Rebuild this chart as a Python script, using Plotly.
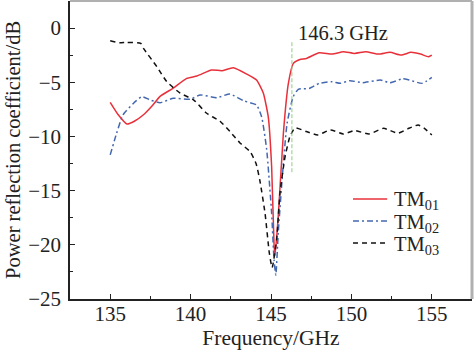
import plotly.graph_objects as go

# ---- data ----
tm01_x = [135.0, 135.5, 136.04, 136.5, 137.07, 137.6, 138.1, 138.9, 139.76, 140.4, 141.3, 141.94, 142.66,
          143.49, 144.1, 144.52, 144.83, 145.04, 145.19, 145.25, 145.45, 145.77, 146.08, 146.39, 146.8,
          147.2, 148.0, 148.8, 149.5, 150.2, 150.9, 151.7, 152.4, 153.1, 153.7, 154.3, 154.8, 155.0]
tm01_y = [-6.85, -8.0, -8.85, -8.6, -8.0, -7.2, -6.3, -5.56, -4.64, -4.42, -3.87, -3.93, -3.66,
          -4.24, -4.79, -6.0, -8.2, -12.8, -20.0, -21.0, -17.4, -9.7, -5.1, -3.26, -2.9,
          -2.8, -2.27, -2.4, -2.18, -2.34, -2.18, -2.4, -2.24, -2.49, -2.24, -2.4, -2.64, -2.49]

tm02_x = [135.0, 135.4, 135.8, 136.45, 136.97, 137.5, 138.1, 138.93, 139.97, 140.6, 141.63, 142.45,
          143.28, 144.1, 144.42, 144.73, 145.04, 145.19, 145.3, 145.45, 145.72, 146.0, 146.38, 146.7,
          147.4, 148.0, 148.8, 149.3, 149.9, 150.7, 151.8, 152.4, 153.2, 153.6, 154.4, 155.0]
tm02_y = [-11.7, -9.7, -8.0, -6.94, -6.33, -6.64, -6.88, -6.48, -6.57, -6.17, -6.42, -6.08,
          -6.7, -7.1, -8.2, -11.2, -17.1, -21.4, -22.8, -18.9, -13.4, -8.8, -6.33, -5.65,
          -5.56, -5.1, -4.95, -5.1, -4.85, -5.04, -4.79, -5.04, -4.67, -4.79, -5.1, -4.55]

tm03_x = [135.0, 135.6, 136.0, 136.9, 137.07, 137.9, 138.52, 139.35, 140.2, 141.0, 141.83, 142.45,
          143.07, 143.7, 144.07, 144.3, 144.63, 144.9, 145.07, 145.35, 145.56, 145.87, 146.18, 146.5,
          147.2, 147.9, 148.7, 149.5, 150.2, 151.1, 152.0, 152.9, 153.5, 154.15, 154.5, 155.0]
tm03_y = [-1.17, -1.35, -1.32, -1.41, -1.87, -3.56, -4.95, -6.0, -6.64, -7.86, -8.6, -9.55,
          -10.6, -11.4, -12.5, -14.0, -17.1, -20.8, -22.1, -19.5, -15.2, -11.9, -10.0, -9.2,
          -9.55, -9.86, -9.4, -9.77, -9.46, -9.77, -9.25, -9.7, -9.3, -8.94, -9.2, -9.86]

series_names = ["TM<sub>01</sub>", "TM<sub>02</sub>", "TM<sub>03</sub>"]
series_colors = ["#e8303a", "#4468b0", "#111111"]
series_dash = ["solid", "6px,3px,2px,3px", "5px,4px"]
x_ticks = [135, 140, 145, 150, 155]
y_ticks = [0, -5, -10, -15, -20, -25]
marker_freq = 146.3
marker_label = "146.3 GHz"

FONT = "'Liberation Serif', 'Times New Roman', serif"

fig = go.Figure()
for xs, ys, nm, col, dsh in zip([tm01_x, tm02_x, tm03_x], [tm01_y, tm02_y, tm03_y],
                                series_names, series_colors, series_dash):
    fig.add_trace(go.Scatter(x=xs, y=ys, name=nm, mode="lines", showlegend=False,
                             line=dict(color=col, width=1.5, dash=dsh, shape="spline", smoothing=0.5)))

# manual legend (compact spacing like the reference)
leg_y = [0.3356, 0.2617, 0.1879]
for nm, col, dsh, ly in zip(series_names, series_colors, series_dash, leg_y):
    fig.add_shape(type="line", xref="paper", yref="paper", x0=0.704, x1=0.789, y0=ly, y1=ly,
                  line=dict(color=col, width=1.5, dash=dsh))
    fig.add_annotation(xref="paper", yref="paper", x=0.801, y=ly, yshift=-2, text=nm, showarrow=False,
                       xanchor="left", yanchor="middle", font=dict(family=FONT, size=20.5, color="#222"))

# green marker line
fig.add_shape(type="line", x0=marker_freq, x1=marker_freq, y0=-13.3, y1=-1.3, xref="x", yref="y",
              line=dict(color="#8ccf7e", width=1, dash="4px,2px"))
fig.add_annotation(x=146.55, y=-0.45, xref="x", yref="y", text=marker_label, showarrow=False,
                   xanchor="left", yanchor="middle", font=dict(family=FONT, size=20.5, color="#222"))

# y-axis title
fig.add_annotation(xref="paper", yref="paper", x=-0.142, y=0.5, text="Power reflection coefficient/dB",
                   textangle=-90, showarrow=False, xanchor="center", yanchor="middle",
                   font=dict(family=FONT, size=20.5, color="#222"))

# gray frame on top and right
fig.add_shape(type="line", x0=0, x1=1, y0=1, y1=1, xref="paper", yref="paper",
              line=dict(color="#b0b0b0", width=2))
fig.add_shape(type="line", x0=1, x1=1, y0=0, y1=1, xref="paper", yref="paper",
              line=dict(color="#b0b0b0", width=3))

fig.update_layout(
    width=474, height=350,
    margin=dict(l=70, r=2, t=1, b=51),
    paper_bgcolor="white", plot_bgcolor="white",
    font=dict(family=FONT, size=20, color="#222"),
    showlegend=False,
)
fig.update_xaxes(range=[132.5, 157.5], tickvals=x_ticks, ticks="inside", ticklen=5, tickwidth=1.2,
                 showline=True, linecolor="#222", linewidth=1.5, showgrid=False, zeroline=False,
                 minor=dict(ticks="inside", ticklen=3, dtick=2.5, tick0=135, tickcolor="#222"),
                 tickfont=dict(family=FONT, size=21), ticklabelstandoff=-5,
                 title=dict(text="Frequency/GHz", standoff=4, font=dict(family=FONT, size=21.5)),
                 tickcolor="#222")
fig.update_yaxes(range=[-25, 2.5], tickvals=y_ticks, ticks="inside", ticklen=5, tickwidth=1.2,
                 showline=True, linecolor="#222", linewidth=1.5, showgrid=False, zeroline=False,
                 minor=dict(ticks="inside", ticklen=3, dtick=2.5, tick0=0, tickcolor="#222"),
                 tickfont=dict(family=FONT, size=21), ticklabelstandoff=3,
                 tickcolor="#222")

fig.write_html("out.html")
